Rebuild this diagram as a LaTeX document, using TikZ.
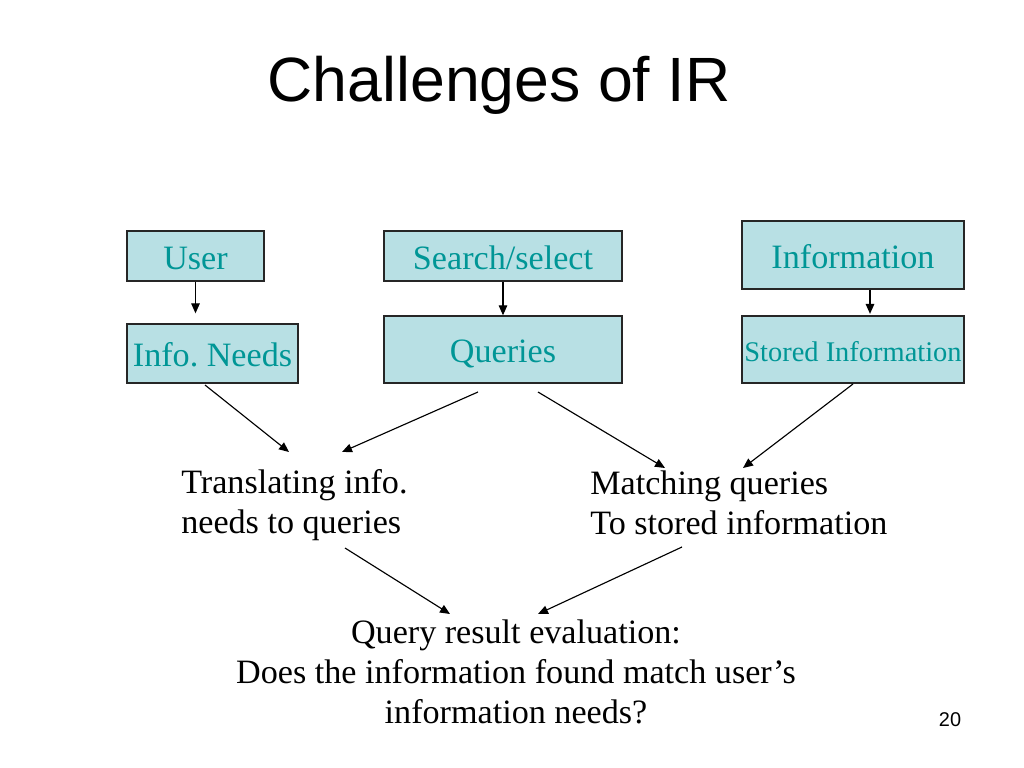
\documentclass[tikz,border=0pt]{standalone}
\usepackage{fontspec}
\setmainfont{Liberation Serif}
\newfontfamily\arialf{Liberation Sans}
\usetikzlibrary{arrows.meta,calc}
\definecolor{boxfill}{RGB}{184,224,228}
\definecolor{boxtext}{RGB}{0,150,150}
\tikzset{
  box/.style={draw=black!85, line width=1pt, fill=boxfill, text=boxtext, inner sep=0pt,
    text height=20.4pt, text depth=1.7pt,
    font=\fontsize{24}{28}\selectfont},
  arr/.style={line width=0.8pt, -{Triangle[length=7pt,width=6pt]}},
  body/.style={inner sep=0pt, font=\fontsize{24}{28.125}\selectfont},
}
\begin{document}
\frenchspacing
\begin{tikzpicture}[x=0.703125pt,y=-0.703125pt]
\useasboundingbox[fill=white] (0,0) rectangle (1024,768);
% title
\node[anchor=base, inner sep=0pt, font=\arialf\fontsize{44}{50}\selectfont] (title) at (499,102) {Challenges of IR};
% boxes
\node[box, minimum width=96.3pt, minimum height=35.2pt] (user) at (195.5,256) {User};
\node[box, minimum width=120.2pt, minimum height=41.5pt] (needs) at (212.5,353.5) {Info.\ Needs};
\node[box, minimum width=167.3pt, minimum height=35.2pt] (search) at (503,256) {Search/select};
\node[box, minimum width=167.3pt, minimum height=47.1pt] (queries) at (503,349.5) {Queries};
\node[box, minimum width=156.1pt, minimum height=47.8pt] (info) at (853,255) {Information};
\node[box, minimum width=156.1pt, minimum height=47.1pt, font=\fontsize{20}{24}\selectfont, text height=18pt, text depth=1.6pt] (stored) at (853,349.5) {Stored Information};
% texts
\node[body, anchor=base west] (translate) at (181,493) {\begin{tabular}[t]{@{}l@{}}Translating info.\\ needs to queries\end{tabular}};
\node[body, anchor=base west] (matching) at (590,494) {\begin{tabular}[t]{@{}l@{}}Matching queries\\ To stored information\end{tabular}};
\node[body, anchor=base] (evaluation) at (516,643) {\begin{tabular}[t]{@{}c@{}}Query result evaluation:\\ Does the information found match user’s\\ information needs?\end{tabular}};
\node[anchor=base, inner sep=0pt, font=\arialf\fontsize{14}{16}\selectfont] (page) at (950,726) {20};
% connector end points
\coordinate (d1s) at (205,385);
\coordinate (d1e) at (289,452);
\coordinate (d2s) at (478,392);
\coordinate (d2e) at (342,452);
\coordinate (d3s) at (538,392);
\coordinate (d3e) at (665,468);
\coordinate (d4s) at (853,384);
\coordinate (d4e) at (743,468);
\coordinate (d5s) at (345,548);
\coordinate (d5e) at (450,614);
\coordinate (d6s) at (682,547);
\coordinate (d6e) at (538,614);
% vertical arrows
\draw[arr, shorten >=7pt] (user.south) -- (user.south |- needs.north);
\draw[arr] (search.south) -- (queries.north);
\draw[arr, shorten >=1pt] ($(info.south)+(17,0)$) -- ($(stored.north)+(17,0)$);
% diagonal arrows
\draw[arr] (d1s) -- (d1e);
\draw[arr] (d2s) -- (d2e);
\draw[arr] (d3s) -- (d3e);
\draw[arr] (d4s) -- (d4e);
\draw[arr] (d5s) -- (d5e);
\draw[arr] (d6s) -- (d6e);
\end{tikzpicture}
\end{document}
